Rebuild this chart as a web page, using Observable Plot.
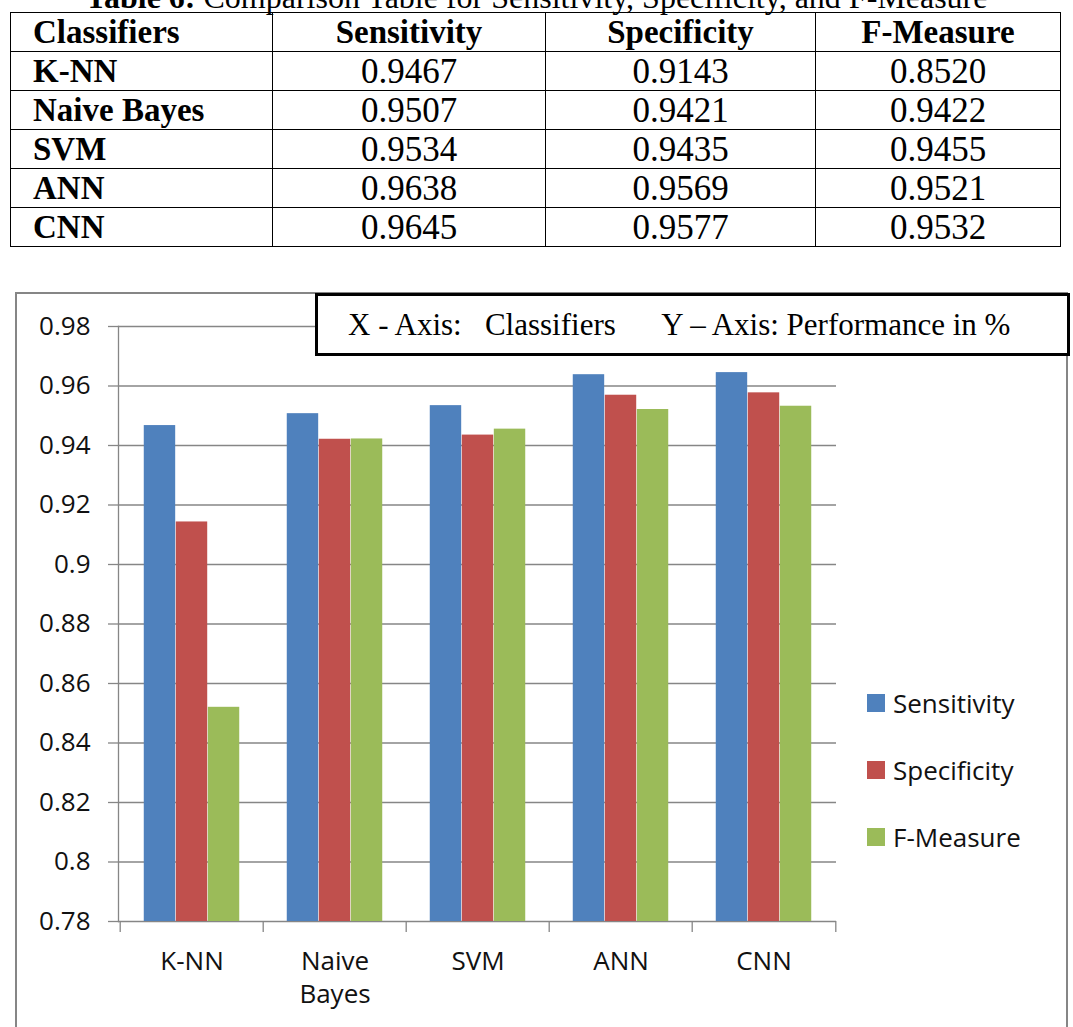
<!DOCTYPE html>
<html>
<head>
<meta charset="utf-8">
<script src="https://cdn.jsdelivr.net/npm/d3@7"></script>
<script src="https://cdn.jsdelivr.net/npm/@observablehq/plot@0.6"></script>
<style>
  html, body { margin: 0; padding: 0; background: #fff; }
  #page { position: relative; width: 1073px; height: 1027px; overflow: hidden; background: #fff; }
  #title { position: absolute; left: 0; width: 1073px; top: -19px; text-align: center;
           font-family: "Liberation Serif", "Times New Roman", serif; font-size: 32px; line-height: 1; color: #000; white-space: nowrap; }
  #tbl { position: absolute; left: 10px; top: 12px; width: 1050px; border-collapse: collapse; table-layout: fixed;
         font-family: "Liberation Serif", "Times New Roman", serif; font-size: 35px; color: #000; }
  #tbl td, #tbl th { border: 1.5px solid #000; height: 38px; padding: 0; line-height: 1; text-align: center; vertical-align: middle; }
  #tbl th { font-weight: bold; font-size: 33px; }
  #tbl td.first, #tbl th.first { text-align: left; padding-left: 22px; font-weight: bold; font-size: 33px; }
  #chartbox { position: absolute; left: 15px; top: 292px; width: 1053px; height: 760px; border: 2px solid #868686; box-sizing: border-box; }
  #plot { position: absolute; left: 0; top: 292px; }
  #note { position: absolute; left: 315px; top: 293px; width: 755px; height: 63px; box-sizing: border-box; border: 3px solid #000;
          background: #fff; font-family: "Liberation Serif", "Times New Roman", serif; font-size: 31px; line-height: 57px;
          padding-left: 30px; white-space: pre; color: #000; }
  #legend { position: absolute; left: 867px; top: 669px; font-family: "Open Sans", sans-serif; font-size: 26px; color: #111; }
  #legend .item { display: flex; align-items: center; height: 67px; }
  #legend .sw { width: 18px; height: 18px; margin-right: 8px; }
</style>
</head>
<body>
<div id="page">
  <div id="title"></div>
  <table id="tbl"></table>
  <div id="chartbox"></div>
  <div id="plot"></div>
  <div id="note"></div>
  <div id="legend"></div>
</div>
<script>
// ---- data ----
const titleBold = "Table 6:";
const titleText = " Comparison Table for Sensitivity, Specificity, and F-Measure";
const tableHeaders = ["Classifiers", "Sensitivity", "Specificity", "F-Measure"];
const classifiers = ["K-NN", "Naive Bayes", "SVM", "ANN", "CNN"];
const sensitivity = [0.9467, 0.9507, 0.9534, 0.9638, 0.9645];
const specificity = [0.9143, 0.9421, 0.9435, 0.9569, 0.9577];
const fMeasure = [0.8520, 0.9422, 0.9455, 0.9521, 0.9532];
const seriesNames = ["Sensitivity", "Specificity", "F-Measure"];
const seriesColors = ["#4F81BD", "#C0504D", "#9BBB59"];
const yTicks = [0.78, 0.80, 0.82, 0.84, 0.86, 0.88, 0.90, 0.92, 0.94, 0.96, 0.98];
const noteText = "X - Axis:   Classifiers      Y \u2013 Axis: Performance in %";

// ---- title & table ----
document.getElementById("title").innerHTML = "<b>" + titleBold + "</b>" + titleText;
const seriesValues = [sensitivity, specificity, fMeasure];
const colWidths = [262, 273, 270, 245];
let html = "<colgroup>" + colWidths.map(w => `<col style="width:${w}px">`).join("") + "</colgroup>";
html += "<tr>" + tableHeaders.map((h, i) => `<th class="${i === 0 ? "first" : ""}">${h}</th>`).join("") + "</tr>";
classifiers.forEach((c, i) => {
  html += `<tr><td class="first">${c}</td>` + seriesValues.map(s => `<td>${s[i].toFixed(4)}</td>`).join("") + "</tr>";
});
document.getElementById("tbl").innerHTML = html;

// ---- note & legend ----
document.getElementById("note").textContent = noteText;
document.getElementById("legend").innerHTML = seriesNames.map((s, k) =>
  `<div class="item"><div class="sw" style="background:${seriesColors[k]}"></div><span>${s}</span></div>`).join("");

// ---- chart ----
const rows = seriesNames.flatMap((s, k) => classifiers.map((c, i) => ({cls: c, series: s, value: seriesValues[k][i]})));
const W = 1073, H = 740, ML = 118, MR = 237, MT = 34, MB = 111;
const bw = (W - ML - MR) / classifiers.length;
const barW = bw * 0.223;
const inset = (bw - barW) / 2;
const yMin = yTicks[0], yMax = yTicks[yTicks.length - 1];
const gridColor = "#868686";

const chart = Plot.plot({
  width: W, height: H,
  marginLeft: ML, marginRight: MR, marginTop: MT, marginBottom: MB,
  style: {background: "transparent", fontFamily: "'Open Sans', sans-serif", fontSize: "26px", color: "#111", overflow: "visible"},
  x: {domain: classifiers, padding: 0, axis: null},
  y: {domain: [yMin, yMax], axis: null},
  color: {domain: seriesNames, range: seriesColors},
  marks: [
    Plot.ruleY(yTicks, {y: d => d, stroke: gridColor, strokeWidth: 1.3}),
    Plot.axisY({ticks: yTicks, tickSize: 10, tickPadding: 18, stroke: gridColor, strokeWidth: 1.3, fill: "#111",
                tickFormat: d => String(+d.toFixed(2)), label: null, fontSize: 26}),
    Plot.frame({anchor: "left", stroke: gridColor, strokeWidth: 1.3}),
    Plot.axisX({ticks: classifiers, tickSize: 11, dx: -bw / 2, stroke: gridColor, strokeWidth: 1.3, tickFormat: () => "", label: null}),
    Plot.axisX({ticks: classifiers.slice(-1), tickSize: 11, dx: bw / 2, stroke: gridColor, strokeWidth: 1.3, tickFormat: () => "", label: null}),
    ...seriesNames.map((s, k) => Plot.barY(rows.filter(r => r.series === s), {
      x: "cls", y1: () => yMin, y2: "value", fill: "series",
      insetLeft: inset, insetRight: inset, dx: (k - 1) * barW
    })),
    Plot.text(classifiers, {x: d => d, frameAnchor: "bottom", lineAnchor: "top", dy: 24,
      text: d => d.replace(" ", "\n"), lineHeight: 1.3, fontSize: 26, fill: "#111"})
  ]
});
document.getElementById("plot").appendChild(chart);
</script>
</body>
</html>
